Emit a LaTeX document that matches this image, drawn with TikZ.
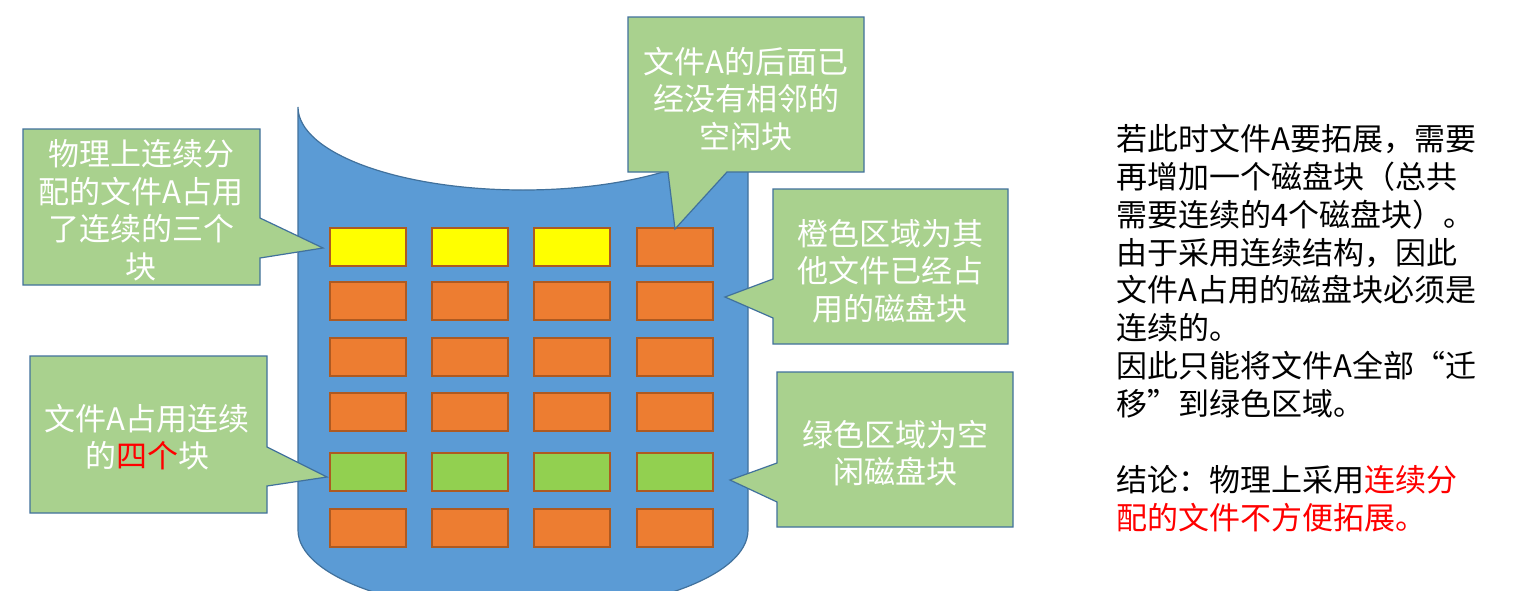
\documentclass[tikz,border=0pt]{standalone}
\usepackage{fontspec}
\setmainfont{Noto Sans CJK SC}
\definecolor{diskblue}{HTML}{5B9BD5}
\definecolor{diskedge}{HTML}{41719C}
\definecolor{calfill}{HTML}{A9D18E}
\definecolor{blkedge}{HTML}{AE5A21}
\definecolor{blkorange}{HTML}{ED7D31}
\definecolor{blkyellow}{HTML}{FFFF00}
\definecolor{blkgreen}{HTML}{92D050}
\definecolor{redtxt}{HTML}{FF0000}
\begin{document}
\begin{tikzpicture}[x=1pt,y=-1pt,
  disk/.style={fill=diskblue,draw=diskedge,line width=1.2pt},
  blk/.style={draw=blkedge,line width=1.6pt,minimum width=76pt,minimum height=38pt,inner sep=0pt},
  callout/.style={fill=calfill,draw=diskedge,line width=1.2pt,line join=miter},
  caltext/.style={text=white,align=center,font=\fontsize{31}{37.5}\selectfont,inner sep=0pt},
  sidetext/.style={text=black,align=left,font=\fontsize{31}{37.9}\selectfont,inner sep=0pt}]
\useasboundingbox (0,0) rectangle (1522,590);
\clip (0,0) rectangle (1522,590);
\fill[white] (0,0) rectangle (1522,590);
% disk body
\draw[disk] (298,107) -- (298,530)
  .. controls (298,575.8) and (398.7,613) .. (523,613)
  .. controls (647.3,613) and (748,575.8) .. (748,530)
  -- (748,107)
  .. controls (748,152.8) and (647.3,190) .. (523,190)
  .. controls (398.7,190) and (298,152.8) .. (298,107) -- cycle;
% blocks
\foreach \r/\y in {1/247,2/301,3/357,4/412,5/472,6/528}{
  \foreach \c/\x in {1/368,2/470,3/572,4/675}{
    \node[blk,fill=blkorange] (b\r\c) at (\x,\y) {};
  }
}
\foreach \c/\x in {1/368,2/470,3/572}{\node[blk,fill=blkyellow] (y\c) at (\x,247) {};}
\foreach \c/\x in {1/368,2/470,3/572,4/675}{\node[blk,fill=blkgreen] (g\c) at (\x,472) {};}
% callouts
\draw[callout] (23,129) -- (260,129) -- (260,218) -- (323,248) -- (260,258) -- (260,285) -- (23,285) -- cycle;
\node[caltext] (t1) at (141,210) {物理上连续分\\配的文件A占用\\了连续的三个\\块};
\draw[callout] (628,17) -- (864,17) -- (864,172) -- (727,172) -- (675,229) -- (668,172) -- (628,172) -- cycle;
\node[caltext] (t2) at (746,99) {文件A的后面已\\经没有相邻的\\空闲块};
\draw[callout] (773,189) -- (1008,189) -- (1008,344) -- (773,344) -- (773,318) -- (725,297) -- (773,279) -- cycle;
\node[caltext] (t3) at (890,271) {橙色区域为其\\他文件已经占\\用的磁盘块};
\draw[callout] (777,372) -- (1013,372) -- (1013,527) -- (777,527) -- (777,502) -- (730,480) -- (777,463) -- cycle;
\node[caltext] (t4) at (895,453) {绿色区域为空\\闲磁盘块};
\draw[callout] (30,356) -- (267,356) -- (267,447) -- (327,477) -- (267,486) -- (267,513) -- (30,513) -- cycle;
\node[caltext] (t5) at (147,437) {文件A占用连续\\的\textcolor{redtxt}{四个}块};
% side text
\node[sidetext,anchor=west] (side) at (1116,328) {若此时文件A要拓展，需要\\再增加一个磁盘块（总共\\需要连续的4个磁盘块）。\\由于采用连续结构，因此\\文件A占用的磁盘块必须是\\连续的。\\因此只能将文件A全部“迁\\移”到绿色区域。\\[37.9pt]结论：物理上采用\textcolor{redtxt}{连续分}\\\textcolor{redtxt}{配的文件不方便拓展。}};
\end{tikzpicture}
\end{document}
